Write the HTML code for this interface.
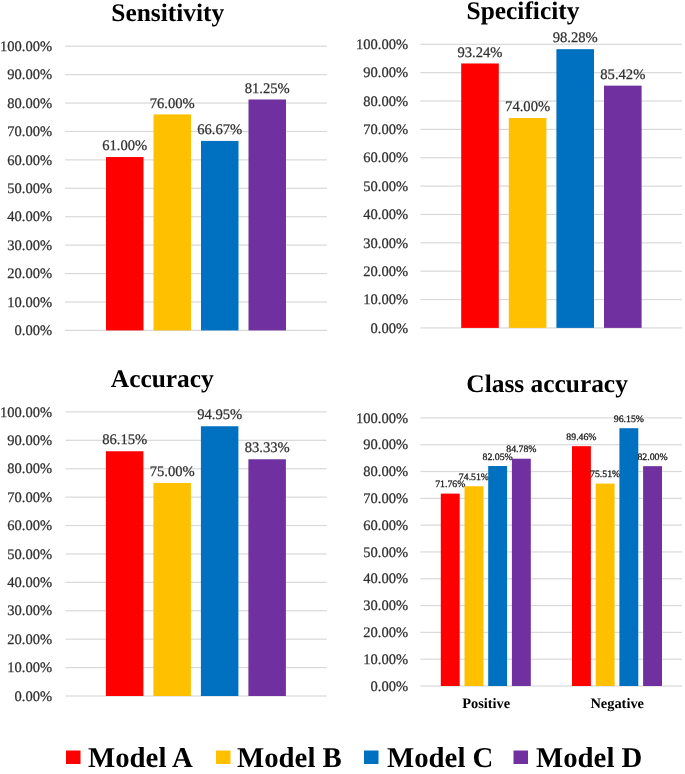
<!DOCTYPE html>
<html><head><meta charset="utf-8"><title>Model comparison charts</title>
<style>
html,body{margin:0;padding:0;background:#fff;}
body{width:685px;height:774px;overflow:hidden;}
svg{display:block;filter:blur(0.45px);}
text{font-family:"Liberation Serif","Times New Roman",serif;text-rendering:geometricPrecision;}
.ax{font-size:14.5px;fill:#303030;stroke:#303030;stroke-width:0.25px;}
.lb{fill:#303030;stroke:#303030;stroke-width:0.25px;}
.lbs{fill:#1e1e1e;stroke:#1e1e1e;stroke-width:0.3px;}
.tt{font-size:25.4px;font-weight:bold;fill:#000;}
.ct{font-size:14.4px;font-weight:bold;fill:#000;}
.lg{font-size:28.8px;font-weight:bold;fill:#000;}
</style></head>
<body>
<svg width="685" height="774" viewBox="0 0 685 774">
<rect width="685" height="774" fill="#fff"/>
<rect x="65.0" y="329.80" width="262.0" height="1.2" fill="#D9D9D9"/>
<text x="52.0" y="335.10" class="ax" text-anchor="end">0.00%</text>
<rect x="65.0" y="301.38" width="262.0" height="1.2" fill="#D9D9D9"/>
<text x="52.0" y="306.68" class="ax" text-anchor="end">10.00%</text>
<rect x="65.0" y="272.96" width="262.0" height="1.2" fill="#D9D9D9"/>
<text x="52.0" y="278.26" class="ax" text-anchor="end">20.00%</text>
<rect x="65.0" y="244.54" width="262.0" height="1.2" fill="#D9D9D9"/>
<text x="52.0" y="249.84" class="ax" text-anchor="end">30.00%</text>
<rect x="65.0" y="216.12" width="262.0" height="1.2" fill="#D9D9D9"/>
<text x="52.0" y="221.42" class="ax" text-anchor="end">40.00%</text>
<rect x="65.0" y="187.70" width="262.0" height="1.2" fill="#D9D9D9"/>
<text x="52.0" y="193.00" class="ax" text-anchor="end">50.00%</text>
<rect x="65.0" y="159.28" width="262.0" height="1.2" fill="#D9D9D9"/>
<text x="52.0" y="164.58" class="ax" text-anchor="end">60.00%</text>
<rect x="65.0" y="130.86" width="262.0" height="1.2" fill="#D9D9D9"/>
<text x="52.0" y="136.16" class="ax" text-anchor="end">70.00%</text>
<rect x="65.0" y="102.44" width="262.0" height="1.2" fill="#D9D9D9"/>
<text x="52.0" y="107.74" class="ax" text-anchor="end">80.00%</text>
<rect x="65.0" y="74.02" width="262.0" height="1.2" fill="#D9D9D9"/>
<text x="52.0" y="79.32" class="ax" text-anchor="end">90.00%</text>
<rect x="65.0" y="45.60" width="262.0" height="1.2" fill="#D9D9D9"/>
<text x="52.0" y="50.90" class="ax" text-anchor="end">100.00%</text>
<rect x="106.00" y="157.04" width="37.50" height="173.36" fill="#FF0000"/>
<text x="124.75" y="150.44" class="lb" style="font-size:14.6px" text-anchor="middle">61.00%</text>
<rect x="153.50" y="114.41" width="37.50" height="215.99" fill="#FFC000"/>
<text x="172.25" y="107.81" class="lb" style="font-size:14.6px" text-anchor="middle">76.00%</text>
<rect x="201.00" y="140.92" width="37.50" height="189.48" fill="#0070C0"/>
<text x="219.75" y="134.32" class="lb" style="font-size:14.6px" text-anchor="middle">66.67%</text>
<rect x="248.50" y="99.49" width="37.50" height="230.91" fill="#7030A0"/>
<text x="267.25" y="92.89" class="lb" style="font-size:14.6px" text-anchor="middle">81.25%</text>
<text x="167.8" y="21.2" class="tt" text-anchor="middle">Sensitivity</text>
<rect x="420.4" y="327.30" width="261.6" height="1.2" fill="#D9D9D9"/>
<text x="408.0" y="332.60" class="ax" text-anchor="end">0.00%</text>
<rect x="420.4" y="298.94" width="261.6" height="1.2" fill="#D9D9D9"/>
<text x="408.0" y="304.24" class="ax" text-anchor="end">10.00%</text>
<rect x="420.4" y="270.58" width="261.6" height="1.2" fill="#D9D9D9"/>
<text x="408.0" y="275.88" class="ax" text-anchor="end">20.00%</text>
<rect x="420.4" y="242.22" width="261.6" height="1.2" fill="#D9D9D9"/>
<text x="408.0" y="247.52" class="ax" text-anchor="end">30.00%</text>
<rect x="420.4" y="213.86" width="261.6" height="1.2" fill="#D9D9D9"/>
<text x="408.0" y="219.16" class="ax" text-anchor="end">40.00%</text>
<rect x="420.4" y="185.50" width="261.6" height="1.2" fill="#D9D9D9"/>
<text x="408.0" y="190.80" class="ax" text-anchor="end">50.00%</text>
<rect x="420.4" y="157.14" width="261.6" height="1.2" fill="#D9D9D9"/>
<text x="408.0" y="162.44" class="ax" text-anchor="end">60.00%</text>
<rect x="420.4" y="128.78" width="261.6" height="1.2" fill="#D9D9D9"/>
<text x="408.0" y="134.08" class="ax" text-anchor="end">70.00%</text>
<rect x="420.4" y="100.42" width="261.6" height="1.2" fill="#D9D9D9"/>
<text x="408.0" y="105.72" class="ax" text-anchor="end">80.00%</text>
<rect x="420.4" y="72.06" width="261.6" height="1.2" fill="#D9D9D9"/>
<text x="408.0" y="77.36" class="ax" text-anchor="end">90.00%</text>
<rect x="420.4" y="43.70" width="261.6" height="1.2" fill="#D9D9D9"/>
<text x="408.0" y="49.00" class="ax" text-anchor="end">100.00%</text>
<rect x="461.20" y="63.47" width="37.60" height="264.43" fill="#FF0000"/>
<text x="480.00" y="56.67" class="lb" style="font-size:14.6px" text-anchor="middle">93.24%</text>
<rect x="508.80" y="118.04" width="37.60" height="209.86" fill="#FFC000"/>
<text x="527.60" y="111.24" class="lb" style="font-size:14.6px" text-anchor="middle">74.00%</text>
<rect x="556.40" y="49.18" width="37.60" height="278.72" fill="#0070C0"/>
<text x="575.20" y="42.38" class="lb" style="font-size:14.6px" text-anchor="middle">98.28%</text>
<rect x="604.00" y="85.65" width="37.60" height="242.25" fill="#7030A0"/>
<text x="622.80" y="78.85" class="lb" style="font-size:14.6px" text-anchor="middle">85.42%</text>
<text x="523.0" y="19.0" class="tt" text-anchor="middle">Specificity</text>
<rect x="65.4" y="695.40" width="261.3" height="1.2" fill="#D9D9D9"/>
<text x="52.0" y="700.70" class="ax" text-anchor="end">0.00%</text>
<rect x="65.4" y="666.99" width="261.3" height="1.2" fill="#D9D9D9"/>
<text x="52.0" y="672.29" class="ax" text-anchor="end">10.00%</text>
<rect x="65.4" y="638.58" width="261.3" height="1.2" fill="#D9D9D9"/>
<text x="52.0" y="643.88" class="ax" text-anchor="end">20.00%</text>
<rect x="65.4" y="610.17" width="261.3" height="1.2" fill="#D9D9D9"/>
<text x="52.0" y="615.47" class="ax" text-anchor="end">30.00%</text>
<rect x="65.4" y="581.76" width="261.3" height="1.2" fill="#D9D9D9"/>
<text x="52.0" y="587.06" class="ax" text-anchor="end">40.00%</text>
<rect x="65.4" y="553.35" width="261.3" height="1.2" fill="#D9D9D9"/>
<text x="52.0" y="558.65" class="ax" text-anchor="end">50.00%</text>
<rect x="65.4" y="524.94" width="261.3" height="1.2" fill="#D9D9D9"/>
<text x="52.0" y="530.24" class="ax" text-anchor="end">60.00%</text>
<rect x="65.4" y="496.53" width="261.3" height="1.2" fill="#D9D9D9"/>
<text x="52.0" y="501.83" class="ax" text-anchor="end">70.00%</text>
<rect x="65.4" y="468.12" width="261.3" height="1.2" fill="#D9D9D9"/>
<text x="52.0" y="473.42" class="ax" text-anchor="end">80.00%</text>
<rect x="65.4" y="439.71" width="261.3" height="1.2" fill="#D9D9D9"/>
<text x="52.0" y="445.01" class="ax" text-anchor="end">90.00%</text>
<rect x="65.4" y="411.30" width="261.3" height="1.2" fill="#D9D9D9"/>
<text x="52.0" y="416.60" class="ax" text-anchor="end">100.00%</text>
<rect x="105.90" y="451.25" width="37.50" height="244.75" fill="#FF0000"/>
<text x="124.65" y="444.45" class="lb" style="font-size:14.6px" text-anchor="middle">86.15%</text>
<rect x="153.40" y="482.92" width="37.50" height="213.08" fill="#FFC000"/>
<text x="172.15" y="476.12" class="lb" style="font-size:14.6px" text-anchor="middle">75.00%</text>
<rect x="200.90" y="426.25" width="37.50" height="269.75" fill="#0070C0"/>
<text x="219.65" y="419.45" class="lb" style="font-size:14.6px" text-anchor="middle">94.95%</text>
<rect x="248.40" y="459.26" width="37.50" height="236.74" fill="#7030A0"/>
<text x="267.15" y="452.46" class="lb" style="font-size:14.6px" text-anchor="middle">83.33%</text>
<text x="162.3" y="386.8" class="tt" text-anchor="middle">Accuracy</text>
<rect x="420.4" y="685.40" width="261.6" height="1.2" fill="#D9D9D9"/>
<text x="408.0" y="690.70" class="ax" text-anchor="end">0.00%</text>
<rect x="420.4" y="658.59" width="261.6" height="1.2" fill="#D9D9D9"/>
<text x="408.0" y="663.89" class="ax" text-anchor="end">10.00%</text>
<rect x="420.4" y="631.78" width="261.6" height="1.2" fill="#D9D9D9"/>
<text x="408.0" y="637.08" class="ax" text-anchor="end">20.00%</text>
<rect x="420.4" y="604.97" width="261.6" height="1.2" fill="#D9D9D9"/>
<text x="408.0" y="610.27" class="ax" text-anchor="end">30.00%</text>
<rect x="420.4" y="578.16" width="261.6" height="1.2" fill="#D9D9D9"/>
<text x="408.0" y="583.46" class="ax" text-anchor="end">40.00%</text>
<rect x="420.4" y="551.35" width="261.6" height="1.2" fill="#D9D9D9"/>
<text x="408.0" y="556.65" class="ax" text-anchor="end">50.00%</text>
<rect x="420.4" y="524.54" width="261.6" height="1.2" fill="#D9D9D9"/>
<text x="408.0" y="529.84" class="ax" text-anchor="end">60.00%</text>
<rect x="420.4" y="497.73" width="261.6" height="1.2" fill="#D9D9D9"/>
<text x="408.0" y="503.03" class="ax" text-anchor="end">70.00%</text>
<rect x="420.4" y="470.92" width="261.6" height="1.2" fill="#D9D9D9"/>
<text x="408.0" y="476.22" class="ax" text-anchor="end">80.00%</text>
<rect x="420.4" y="444.11" width="261.6" height="1.2" fill="#D9D9D9"/>
<text x="408.0" y="449.41" class="ax" text-anchor="end">90.00%</text>
<rect x="420.4" y="417.30" width="261.6" height="1.2" fill="#D9D9D9"/>
<text x="408.0" y="422.60" class="ax" text-anchor="end">100.00%</text>
<rect x="440.80" y="493.61" width="18.90" height="192.39" fill="#FF0000"/>
<text x="450.25" y="487.31" class="lbs" style="font-size:9.8px" text-anchor="middle">71.76%</text>
<rect x="464.50" y="486.24" width="18.90" height="199.76" fill="#FFC000"/>
<text x="473.95" y="479.94" class="lbs" style="font-size:9.8px" text-anchor="middle">74.51%</text>
<rect x="488.20" y="466.02" width="18.90" height="219.98" fill="#0070C0"/>
<text x="497.65" y="459.72" class="lbs" style="font-size:9.8px" text-anchor="middle">82.05%</text>
<rect x="511.90" y="458.70" width="18.90" height="227.30" fill="#7030A0"/>
<text x="521.35" y="452.40" class="lbs" style="font-size:9.8px" text-anchor="middle">84.78%</text>
<rect x="572.00" y="446.16" width="18.90" height="239.84" fill="#FF0000"/>
<text x="581.45" y="439.86" class="lbs" style="font-size:9.8px" text-anchor="middle">89.46%</text>
<rect x="595.70" y="483.56" width="18.90" height="202.44" fill="#FFC000"/>
<text x="605.15" y="477.26" class="lbs" style="font-size:9.8px" text-anchor="middle">75.51%</text>
<rect x="619.40" y="428.22" width="18.90" height="257.78" fill="#0070C0"/>
<text x="628.85" y="421.92" class="lbs" style="font-size:9.8px" text-anchor="middle">96.15%</text>
<rect x="643.10" y="466.16" width="18.90" height="219.84" fill="#7030A0"/>
<text x="652.55" y="459.86" class="lbs" style="font-size:9.8px" text-anchor="middle">82.00%</text>
<text x="547.1" y="392.4" class="tt" text-anchor="middle">Class accuracy</text>
<text x="486.2" y="707.7" class="ct" text-anchor="middle">Positive</text>
<text x="617.2" y="707.7" class="ct" text-anchor="middle">Negative</text>
<rect x="66" y="750.5" width="14.5" height="13.5" fill="#FF0000"/>
<text x="88" y="766.8" class="lg">Model A</text>
<rect x="216" y="750.5" width="14.5" height="13.5" fill="#FFC000"/>
<text x="237" y="766.8" class="lg">Model B</text>
<rect x="364" y="750.5" width="14.5" height="13.5" fill="#0070C0"/>
<text x="387" y="766.8" class="lg">Model C</text>
<rect x="513.5" y="750.5" width="14.5" height="13.5" fill="#7030A0"/>
<text x="536" y="766.8" class="lg">Model D</text>
</svg>
</body></html>
